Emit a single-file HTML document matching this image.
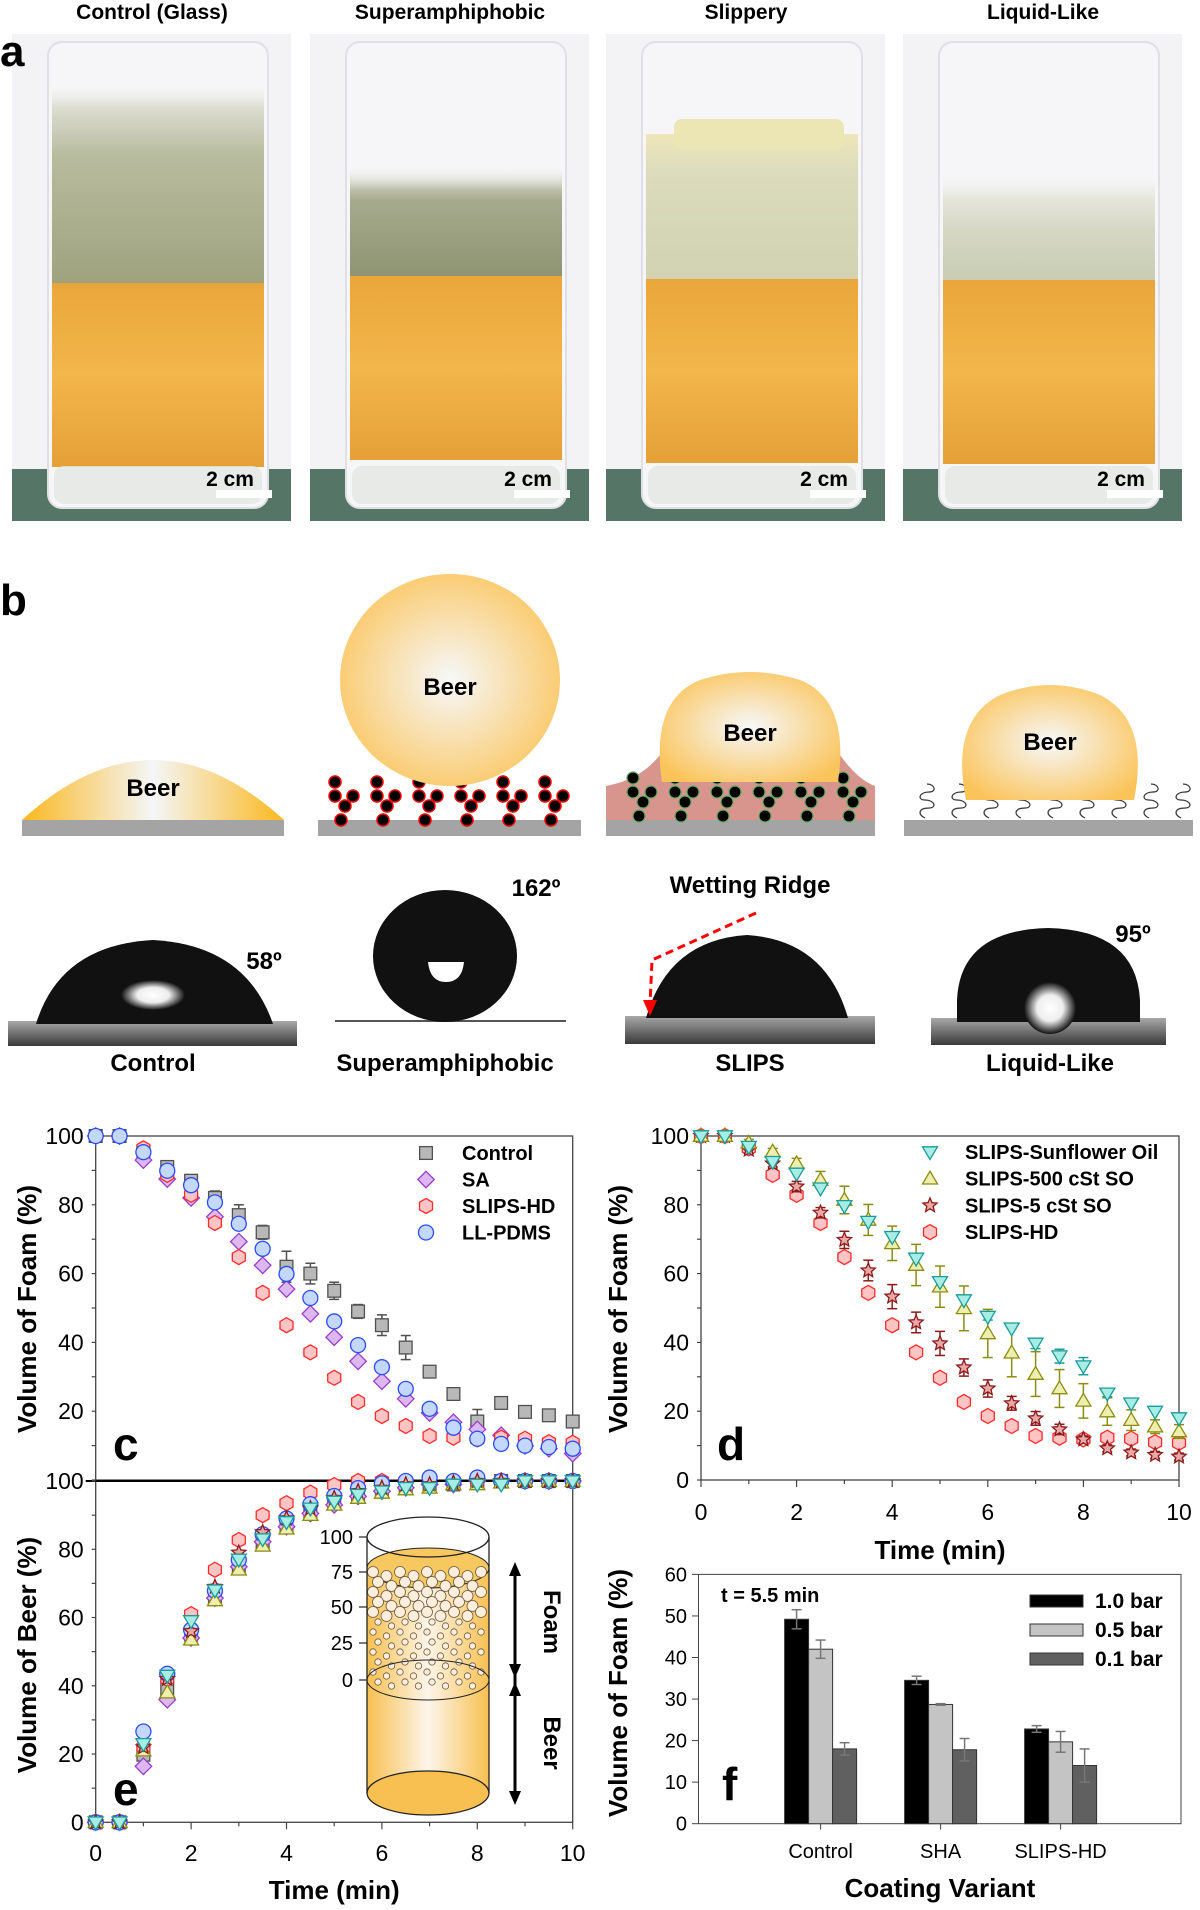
<!DOCTYPE html>
<html><head><meta charset="utf-8"><title>Beer foam figure</title>
<style>
html,body{margin:0;padding:0;background:#fff;}
svg{display:block;font-family:"Liberation Sans",Arial,sans-serif;}
.b{font-weight:bold;}
</style></head>
<body>
<svg id="fig" xmlns="http://www.w3.org/2000/svg" width="1200" height="1910" viewBox="0 0 1200 1910">
<defs>
<linearGradient id="beerG" x1="0" y1="0" x2="0" y2="1"><stop offset="0" stop-color="#eaa63a"/><stop offset="0.5" stop-color="#f2b64a"/><stop offset="1" stop-color="#e5a038"/></linearGradient>
<linearGradient id="foamG1" x1="0" y1="0" x2="0" y2="1"><stop offset="0" stop-color="#ecece6"/><stop offset="0.35" stop-color="#b8bc9e"/><stop offset="1" stop-color="#9ea27e"/></linearGradient>
<linearGradient id="foamG2" x1="0" y1="0" x2="0" y2="1"><stop offset="0" stop-color="#e8e8e2"/><stop offset="0.3" stop-color="#a6aa8c"/><stop offset="1" stop-color="#8e9472"/></linearGradient>
<linearGradient id="foamG3" x1="0" y1="0" x2="0" y2="1"><stop offset="0" stop-color="#eee6b8"/><stop offset="0.25" stop-color="#dcdcbc"/><stop offset="1" stop-color="#d0d2b2"/></linearGradient>
<linearGradient id="foamG4" x1="0" y1="0" x2="0" y2="1"><stop offset="0" stop-color="#f0f0ec"/><stop offset="0.5" stop-color="#d6d8c4"/><stop offset="1" stop-color="#c8ccb2"/></linearGradient>
<linearGradient id="fadeG" x1="0" y1="0" x2="0" y2="1"><stop offset="0" stop-color="#f6f6f8" stop-opacity="1"/><stop offset="1" stop-color="#f6f6f8" stop-opacity="0"/></linearGradient>
<radialGradient id="dropG" cx="0.5" cy="0.5" r="0.6"><stop offset="0" stop-color="#f6f8fa"/><stop offset="1" stop-color="#fbc45a"/></radialGradient>
<linearGradient id="capG" x1="0" y1="0" x2="1" y2="0"><stop offset="0" stop-color="#fbb820"/><stop offset="0.5" stop-color="#f4f6f8"/><stop offset="1" stop-color="#fbb820"/></linearGradient>
<linearGradient id="subG" x1="0" y1="0" x2="0" y2="1"><stop offset="0" stop-color="#a8a8a8"/><stop offset="1" stop-color="#3a3a3a"/></linearGradient>
<radialGradient id="glow" cx="0.5" cy="0.5" r="0.5"><stop offset="0" stop-color="#fff"/><stop offset="0.5" stop-color="#eee"/><stop offset="1" stop-color="#111"/></radialGradient>
<linearGradient id="cylG" x1="0" y1="0" x2="1" y2="0"><stop offset="0" stop-color="#f8c050"/><stop offset="0.5" stop-color="#fdf5ea"/><stop offset="1" stop-color="#f8c050"/></linearGradient>
</defs>
<g id="panelA"></g>
<g id="panelB"></g>
<g id="charts"></g>
</svg>
<script>
// ---------------- DATA ----------------
const times = [0,0.5,1,1.5,2,2.5,3,3.5,4,4.5,5,5.5,6,6.5,7,7.5,8,8.5,9,9.5,10];
const tickX = [0,2,4,6,8,10];
const tickYFoam = [0,20,40,60,80,100];
// panel c
const foamControl = [100,100,95,91,87,82,77,72,62,60,55,49,45,38.5,31.5,25,17,22.4,19.8,18.8,17];
const errControl  = [0,0,1,1,1,2,3,2,4.5,3,2.5,2,3,3.5,1,1,3.5,1,1,1.5,1];
const foamSA      = [100,100,93,87.5,82,76.5,69.3,62.4,55.5,48.3,41.5,34.5,28.7,23.6,19.5,16.8,14.7,13,9.9,9.1,7.7];
const foamHD      = [100,100,96.4,88.7,82.9,74.7,64.8,54.4,45,37.1,29.7,22.7,18.6,15.7,12.8,12.3,11.8,12.3,12,11,10.8];
const foamLL      = [100,100,95.3,89.9,85.7,80.7,74.5,67.2,59.9,52.9,46.1,39.2,32.8,26.5,20.7,15.2,12,10.5,10,9.6,9.1];
// panel d
const foamSun     = [100,100,96.9,92.5,89.1,84.8,79.7,75.1,70.7,64.4,57.6,52.3,47.5,44.1,39.7,36,33.1,25.2,22.3,19.9,18];
const errSun      = [0,0,0,0,0,0,0,0,0,0,0,0,1,0,1.5,2,2.5,1,0,0,0];
const foam500     = [100,100,98,95.4,92,87.2,81.4,75.6,68.8,62.5,56.2,49.9,42.6,37,30.8,26.6,23,19.9,17.4,15.5,14.1];
const err500      = [0,0,1,1,1.5,2.5,4,4.5,5,6,6,6.5,7,7,6.5,5.5,5,4,3,2,2];
const foam5       = [100,100,96,92,85.3,77.7,69.8,60.9,53.3,45.8,39.7,32.7,26.6,22.3,17.9,14.7,11.8,9.2,8,7.3,6.8];
const err5        = [0,0,1,1,1.5,1.5,2.5,3,3.5,3,3.5,2.5,2.5,2,2,1.5,1,1,1,1,1];
// panel e
const beerControl = [0,0,19.8,39,55,66,75,82,87,91,94,96,97,98,99,99,100,100,100,100,100];
const beerSA      = [0,0,16.4,35.9,54,65.7,74.9,82.2,86.6,90.5,93,95.5,97,98,99,99,100,100,100,100,100];
const beerHD      = [0,0,22,42,61,74,82.7,90,93.5,96.6,98.8,100,100,100,100,100,100,100,100,100,100];
const beerLL      = [0,0,26.6,43.5,56.4,67.8,76.9,84.4,89,93.2,95.6,97.9,99.3,100,101,100,101,100,100,100,100];
const beerSun     = [0,0,23,43,59,68,77,83,88,92,94,96,97,98,98,99,99,99,100,100,100];
const beer500     = [0,0,21,38,53.5,65,74,81,86,90,93,95,96.5,97.5,98,99,99,99.5,100,100,100];
const beer5       = [0,0,22,42,56,69,79,85,89,92,95,97,98,99,99,99.5,100,100,100,100,100];
// panel f
const fCategories = ["Control","SHA","SLIPS-HD"];
const f10  = [49.2,34.5,22.8];
const f10e = [2.3,1,0.8];
const f05  = [42,28.7,19.7];
const f05e = [2.2,0.2,2.5];
const f01  = [18,17.8,14];
const f01e = [1.5,2.7,4];
const fTicks = [0,10,20,30,40,50,60];

const NS="http://www.w3.org/2000/svg";
function mk(parent,tag,attrs,text){const e=document.createElementNS(NS,tag);for(const k in attrs)e.setAttribute(k,attrs[k]);if(text!==undefined)e.textContent=text;parent.appendChild(e);return e;}

// ---------------- PANEL A ----------------
const A=document.getElementById('panelA');
const photos=[
 {x:12,title:"Control (Glass)",foamTop:86,beer:283,foam:"url(#foamG1)",name:"control"},
 {x:310,title:"Superamphiphobic",foamTop:168,beer:276,foam:"url(#foamG2)",name:"superamphiphobic"},
 {x:606,title:"Slippery",foamTop:134,beer:279,foam:"url(#foamG3)",name:"slippery"},
 {x:903,title:"Liquid-Like",foamTop:176,beer:280,foam:"url(#foamG4)",name:"liquid-like"}];
photos.forEach(p=>{
 const g=mk(A,'g',{});
 
 
 const t=mk(A,'text',{x:p.x+140,y:19,'text-anchor':'middle','font-size':21,class:'b'},p.title);
 
 
 mk(g,'rect',{x:p.x,y:34,width:279,height:437,fill:'#f3f3f6'});
 mk(g,'rect',{x:p.x,y:469,width:279,height:52,fill:'#557566'});
 mk(g,'rect',{x:p.x+36,y:42,width:220,height:466,rx:14,fill:'#f6f6f8',stroke:'#e0e0e4','stroke-width':2});
 mk(g,'rect',{x:p.x+40,y:p.foamTop,width:212,height:p.beer-p.foamTop+2,fill:p.foam});
 if(p.name==='slippery'){mk(g,'rect',{x:p.x+68,y:p.foamTop-15,width:170,height:30,rx:8,fill:'#ece6b4'});}
 else{mk(g,'rect',{x:p.x+40,y:p.foamTop,width:212,height:22,fill:'url(#fadeG)'});}
 mk(g,'rect',{x:p.x+40,y:p.beer,width:212,height:184,fill:'url(#beerG)'});
 mk(g,'rect',{x:p.x+42,y:466,width:208,height:38,rx:10,fill:'#e4e8e4',opacity:0.85});
 mk(g,'rect',{x:p.x+204,y:490,width:56,height:8,fill:'#fff'});
 mk(g,'text',{x:p.x+218,y:486,'text-anchor':'middle','font-size':21,class:'b'},'2 cm');
});
const la=mk(A,'text',{x:0,y:66,'font-size':44,class:'b'},'a');



// ---------------- PANEL B ----------------
const B=document.getElementById('panelB');
const lb=mk(B,'text',{x:0,y:615,'font-size':44,class:'b'},'b');


[[22,262],[318,263],[606,269],[904,289]].forEach((s,i)=>{
 const r=mk(B,'rect',{x:s[0],y:820,width:s[1],height:16,fill:'#a4a4a4'});
 
 
});
const cap=mk(B,'path',{d:'M22 820 Q153 700 284 820 Z',fill:'url(#capG)'});


mk(B,'text',{x:153,y:796,'text-anchor':'middle','font-size':24,class:'b'},'Beer');
for(let i=0;i<6;i++){const cx=335+i*42;[[0,0],[0,14],[18,14],[10,24],[6,38]].forEach(d=>{mk(B,'circle',{cx:cx+d[0],cy:782+d[1],r:6,fill:'#000',stroke:'#e00','stroke-width':1.5});});}
const sphere=mk(B,'ellipse',{cx:450,cy:680,rx:110,ry:106,fill:'url(#dropG)'});


mk(B,'text',{x:450,y:695,'text-anchor':'middle','font-size':24,class:'b'},'Beer');
const oil=mk(B,'path',{d:'M606 820 L606 786 Q640 780 660 755 L840 755 Q858 780 875 786 L875 820 Z',fill:'#d8958e'});


for(let i=0;i<6;i++){const cx=633+i*42;[[0,0],[0,14],[18,14],[10,24],[6,38]].forEach(d=>{mk(B,'circle',{cx:cx+d[0],cy:778+d[1],r:6,fill:'#000',stroke:'#6a6','stroke-width':1.2});});}
const sd=mk(B,'path',{d:'M662 782 Q650 700 700 680 Q750 664 800 680 Q850 700 838 782 Z',fill:'url(#dropG)'});


mk(B,'text',{x:750,y:741,'text-anchor':'middle','font-size':24,class:'b'},'Beer');
for(let i=0;i<9;i++){const cx=925+i*32;mk(B,'path',{d:`M${cx} 818 c-8 -4 -6 -10 4 -10 c8 0 6 -8 -4 -8 c-8 0 -6 -8 4 -8 c8 0 6 -8 -2 -8`,fill:'none',stroke:'#333','stroke-width':1.2});}
const ld=mk(B,'path',{d:'M966 800 Q950 720 1000 695 Q1050 675 1100 695 Q1150 720 1134 800 Z',fill:'url(#dropG)'});


mk(B,'text',{x:1050,y:750,'text-anchor':'middle','font-size':24,class:'b'},'Beer');
mk(B,'rect',{x:8,y:1021,width:289,height:25,fill:'url(#subG)'});
const ca1=mk(B,'path',{d:'M36 1024 Q60 945 153 940 Q246 945 273 1024 Z',fill:'#111'});


mk(B,'ellipse',{cx:153,cy:995,rx:32,ry:15,fill:'url(#glow)'});
mk(B,'line',{x1:335,y1:1021,x2:566,y2:1021,stroke:'#555','stroke-width':2});
const ca2=mk(B,'ellipse',{cx:445,cy:956,rx:72,ry:66,fill:'#111'});


mk(B,'path',{d:'M428 962 L464 962 Q462 982 446 982 Q430 982 428 962 Z',fill:'#fff'});
mk(B,'rect',{x:625,y:1016,width:250,height:28,fill:'url(#subG)'});
const ca3=mk(B,'path',{d:'M646 1018 Q668 940 747 935 Q826 940 848 1018 Z',fill:'#111'});


const arr=mk(B,'path',{d:'M756 913 L652 960 L650 1005',fill:'none',stroke:'#f00','stroke-width':3,'stroke-dasharray':'8 5'});


mk(B,'path',{d:'M643 1000 L657 1000 L650 1016 Z',fill:'#f00'});
mk(B,'rect',{x:931,y:1018,width:235,height:27,fill:'url(#subG)'});
const ca4=mk(B,'path',{d:'M957 1022 L957 1000 Q960 930 1048 928 Q1136 930 1140 1000 L1140 1022 Z',fill:'#111'});


mk(B,'circle',{cx:1050,cy:1008,r:26,fill:'url(#glow)'});
[[264,969,'58º'],[536,896,'162º'],[1133,942,'95º'],[750,893,'Wetting Ridge']].forEach(t=>{
 const e=mk(B,'text',{x:t[0],y:t[1],'text-anchor':'middle','font-size':24,class:'b'},t[2]);
 
 
});
[[153,'Control'],[445,'Superamphiphobic'],[750,'SLIPS'],[1050,'Liquid-Like']].forEach(t=>{
 const e=mk(B,'text',{x:t[0],y:1071,'text-anchor':'middle','font-size':24,class:'b'},t[1]);
 
 
});

// ---------------- CHARTS ----------------
const C=document.getElementById('charts');
const xC=t=>95.7+t*47.7;
const yC=v=>1480-v*3.44;
const yE=v=>1822.3-v*3.413;
const xD=t=>701+t*47.8;
const yD=v=>1480-v*3.44;
const yF=v=>1823.7-v*4.155;
const xF=i=>820.6+i*120;

const styles={
 control:{shape:'square',fill:'#b8b8b8',stroke:'#505050'},
 sa:{shape:'diamond',fill:'#dcb8f0',stroke:'#9a3ccc'},
 hd:{shape:'hex',fill:'#ffc4c4',stroke:'#ff2a2a'},
 ll:{shape:'circle',fill:'#c4d8ff',stroke:'#2a4cff'},
 sun:{shape:'tridown',fill:'#a8ece6',stroke:'#1a9c98'},
 s500:{shape:'triup',fill:'#eeeeae',stroke:'#8c8c10'},
 s5:{shape:'star',fill:'#e8a8a8',stroke:'#8c1a1a'}};
function marker(g,x,y,st,r){
 r=r||7.5;let e;
 if(st.shape==='square')e=mk(g,'rect',{x:x-r*0.85,y:y-r*0.85,width:r*1.7,height:r*1.7});
 else if(st.shape==='circle')e=mk(g,'circle',{cx:x,cy:y,r:r});
 else{let pts=[];
  if(st.shape==='diamond')pts=[[0,-r*1.1],[r*1.1,0],[0,r*1.1],[-r*1.1,0]];
  if(st.shape==='hex')for(let k=0;k<6;k++){const a=Math.PI/6+k*Math.PI/3;pts.push([r*Math.cos(a),r*Math.sin(a)]);}
  if(st.shape==='tridown')pts=[[-r,-r*0.7],[r,-r*0.7],[0,r]];
  if(st.shape==='triup')pts=[[-r,r*0.7],[r,r*0.7],[0,-r]];
  if(st.shape==='star')for(let k=0;k<10;k++){const a=-Math.PI/2+k*Math.PI/5;const rr=k%2?r*0.45:r;pts.push([rr*Math.cos(a),rr*Math.sin(a)]);}
  e=mk(g,'polygon',{points:pts.map(p=>(x+p[0]).toFixed(1)+','+(y+p[1]).toFixed(1)).join(' ')});}
 e.setAttribute('fill',st.fill);e.setAttribute('stroke',st.stroke);e.setAttribute('stroke-width',1.3);
 return e;
}
function errbar(g,x,y0,y1,col){
 mk(g,'line',{x1:x,y1:y0,x2:x,y2:y1,stroke:col,'stroke-width':1.5});
 mk(g,'line',{x1:x-5,y1:y0,x2:x+5,y2:y0,stroke:col,'stroke-width':1.5});
 mk(g,'line',{x1:x-5,y1:y1,x2:x+5,y2:y1,stroke:col,'stroke-width':1.5});
}
function series(name,xs,ys,xf,yf,st,errs){
 const g=mk(C,'g',{});
 
 
 xs.forEach((t,i)=>{
  if(errs&&errs[i]>0)errbar(g,xf(t),yf(ys[i]+errs[i]),yf(ys[i]-errs[i]),st.stroke);
  const m=marker(g,xf(t),yf(ys[i]),st);
  
  
 });
}
function txt(x,y,s,size,anchor,bold,rot){
 const a={x:x,y:y,'font-size':size,'text-anchor':anchor||'start'};
 if(bold)a['font-weight']='bold';
 if(rot)a.transform=`rotate(-90 ${x} ${y})`;
 return mk(C,'text',a,s);
}
function frame(x0,x1,y0,y1,name,w){const r=mk(C,'rect',{x:x0,y:y0,width:x1-x0,height:y1-y0,fill:'none',stroke:'#444','stroke-width':w||1.3});}
frame(xC(0),xC(10),yC(100),yC(0),'plot-frame-c');
frame(xC(0),xC(10),yE(100),yE(0),'plot-frame-e');
mk(C,'line',{x1:xC(0)-10,y1:yE(100),x2:xC(10),y2:yE(100),stroke:'#000','stroke-width':2});
tickYFoam.forEach(v=>{
 if(v>0){const t=txt(xC(0)-12,yC(v)+8,String(v),23,'end');}
 const t2=txt(xC(0)-12,yE(v)+8,String(v),23,'end');
 const t3=txt(xD(0)-12,yD(v)+8,String(v),23,'end');
});
for(let v=0;v<=100;v+=10){
 [[xC(0),yC(v)],[xC(0),yE(v)],[xD(0),yD(v)]].forEach(p=>mk(C,'line',{x1:p[0]-4,y1:p[1],x2:p[0],y2:p[1],stroke:'#444','stroke-width':1.2}));
}
for(let t=0;t<=10;t+=1){
 const len=t%2===0?7:4;
 mk(C,'line',{x1:xC(t),y1:yE(0),x2:xC(t),y2:yE(0)+len,stroke:'#444','stroke-width':1.2});
 mk(C,'line',{x1:xD(t),y1:yD(0),x2:xD(t),y2:yD(0)+len,stroke:'#444','stroke-width':1.2});
}
tickX.forEach(t=>{
 const a=txt(xC(t),1861,String(t),23,'middle');
 const b=txt(xD(t),1520,String(t),23,'middle');
});
frame(xD(0),xD(10),yD(100),yD(0),'plot-frame-d');
let e;
e=txt(36,1309,'Volume of Foam (%)',26,'middle',true,true);
e=txt(36,1655,'Volume of Beer (%)',26,'middle',true,true);
e=txt(627,1309,'Volume of Foam (%)',26,'middle',true,true);
e=txt(627,1693,'Volume of Foam (%)',26,'middle',true,true);
e=txt(xC(5),1899,'Time (min)',26,'middle',true);
e=txt(xD(5),1559,'Time (min)',26,'middle',true);
[[113,1460,'c'],[717,1460,'d'],[113,1805,'e'],[722,1800,'f']].forEach(p=>{const l=txt(p[0],p[1],p[2],46,'start',true);});
series('series-c-control',times,foamControl,xC,yC,styles.control,errControl);
series('series-c-sa',times,foamSA,xC,yC,styles.sa);
series('series-c-slips-hd',times,foamHD,xC,yC,styles.hd);
series('series-c-ll-pdms',times,foamLL,xC,yC,styles.ll);
[['Control',styles.control],['SA',styles.sa],['SLIPS-HD',styles.hd],['LL-PDMS',styles.ll]].forEach((l,i)=>{
 const y=1153+i*26.5;
 const m=marker(C,426,y,l[1]);
 const t=txt(462,y+7,l[0],20,'start',true);
});
series('series-d-slips-hd',times,foamHD,xD,yD,styles.hd);
series('series-d-5cst',times,foam5,xD,yD,styles.s5,err5);
series('series-d-500cst',times,foam500,xD,yD,styles.s500,err500);
series('series-d-sunflower',times,foamSun,xD,yD,styles.sun,errSun);
[['SLIPS-Sunflower Oil',styles.sun],['SLIPS-500 cSt SO',styles.s500],['SLIPS-5 cSt SO',styles.s5],['SLIPS-HD',styles.hd]].forEach((l,i)=>{
 const y=1152+i*26.7;
 const m=marker(C,930,y,l[1]);
 const t=txt(965,y+7,l[0],20,'start',true);
});
const cyl=mk(C,'g',{});


mk(cyl,'rect',{x:367,y:1568,width:122,height:226,fill:'url(#cylG)'});
mk(cyl,'ellipse',{cx:428,cy:1793,rx:61,ry:22,fill:'#f8c050',stroke:'#222','stroke-width':1.3});
mk(cyl,'ellipse',{cx:428,cy:1568,rx:61,ry:20,fill:'#f8c860',stroke:'#222','stroke-width':1});
for(let r=0;r<12;r++){for(let c=0;c<9;c++){
 const yy=1572+r*10+(c%2)*4;const xx=373+c*13.5+(r%2)*5;
 if(xx<486) mk(cyl,'circle',{cx:xx,cy:yy,r:r<5?5.5:3.2,fill:'#fbeedd',stroke:'#6a5a3a','stroke-width':0.8});}}
mk(cyl,'ellipse',{cx:428,cy:1680,rx:61,ry:20,fill:'none',stroke:'#222','stroke-width':1});
mk(cyl,'line',{x1:367,y1:1537,x2:367,y2:1793,stroke:'#222','stroke-width':1.3});
mk(cyl,'line',{x1:489,y1:1537,x2:489,y2:1793,stroke:'#222','stroke-width':1.3});
mk(cyl,'ellipse',{cx:428,cy:1537,rx:61,ry:20,fill:'none',stroke:'#222','stroke-width':1.3});
[[100,1537],[75,1572],[50,1607],[25,1643],[0,1680]].forEach(p=>{
 mk(cyl,'line',{x1:359,y1:p[1],x2:367,y2:p[1],stroke:'#222','stroke-width':1.2});
 mk(cyl,'text',{x:353,y:p[1]+7,'text-anchor':'end','font-size':20},String(p[0]));
});
mk(cyl,'line',{x1:515,y1:1572,x2:515,y2:1795,stroke:'#000','stroke-width':3});
[[1562,-1],[1678,1],[1682,-1],[1805,1]].forEach(a=>mk(cyl,'path',{d:`M509 ${a[0]-a[1]*14} L521 ${a[0]-a[1]*14} L515 ${a[0]} Z`,fill:'#000'}));
mk(cyl,'text',{x:544,y:1622,'text-anchor':'middle','font-size':24,'font-weight':'bold',transform:'rotate(90 544 1622)'},'Foam');
mk(cyl,'text',{x:544,y:1743,'text-anchor':'middle','font-size':24,'font-weight':'bold',transform:'rotate(90 544 1743)'},'Beer');
series('series-e-control',times,beerControl,xC,yE,styles.control);
series('series-e-sa',times,beerSA,xC,yE,styles.sa);
series('series-e-slips-hd',times,beerHD,xC,yE,styles.hd);
series('series-e-ll-pdms',times,beerLL,xC,yE,styles.ll);
series('series-e-500cst',times,beer500,xC,yE,styles.s500);
series('series-e-5cst',times,beer5,xC,yE,styles.s5);
series('series-e-sunflower',times,beerSun,xC,yE,styles.sun);
frame(698.5,1181,yF(60),yF(0),'plot-frame-f',1);
fTicks.forEach(v=>{
 mk(C,'line',{x1:692,y1:yF(v),x2:698.5,y2:yF(v),stroke:'#444','stroke-width':1});
 const t=txt(687,yF(v)+7,String(v),20,'end');
});
const barSets=[[f10,f10e,'#000','1.0 bar'],[f05,f05e,'#c4c4c4','0.5 bar'],[f01,f01e,'#606060','0.1 bar']];
fCategories.forEach((c,i)=>{
 const t=txt(xF(i),1858,c,20,'middle');
 mk(C,'line',{x1:xF(i),y1:yF(0),x2:xF(i),y2:yF(0)+6,stroke:'#444'});
 barSets.forEach((s,k)=>{
  const bx=xF(i)-36+k*24;
  const r=mk(C,'rect',{x:bx,y:yF(s[0][i]),width:24,height:yF(0)-yF(s[0][i]),fill:s[2],stroke:'#333','stroke-width':1});
  
  
  errbar(C,bx+12,yF(s[0][i]+s[1][i]),yF(s[0][i]-s[1][i]),'#777');
 });
});
barSets.forEach((s,k)=>{
 const y=1595+k*29;
 const r=mk(C,'rect',{x:1030,y:y,width:53,height:12,fill:s[2],stroke:'#333','stroke-width':1});
 
 const t=txt(1095,y+13,s[3],21,'start',true);
});
e=txt(721,1602,'t = 5.5 min',20,'start',true);
e=txt(940,1897,'Coating Variant',26,'middle',true);
</script>
</body></html>
